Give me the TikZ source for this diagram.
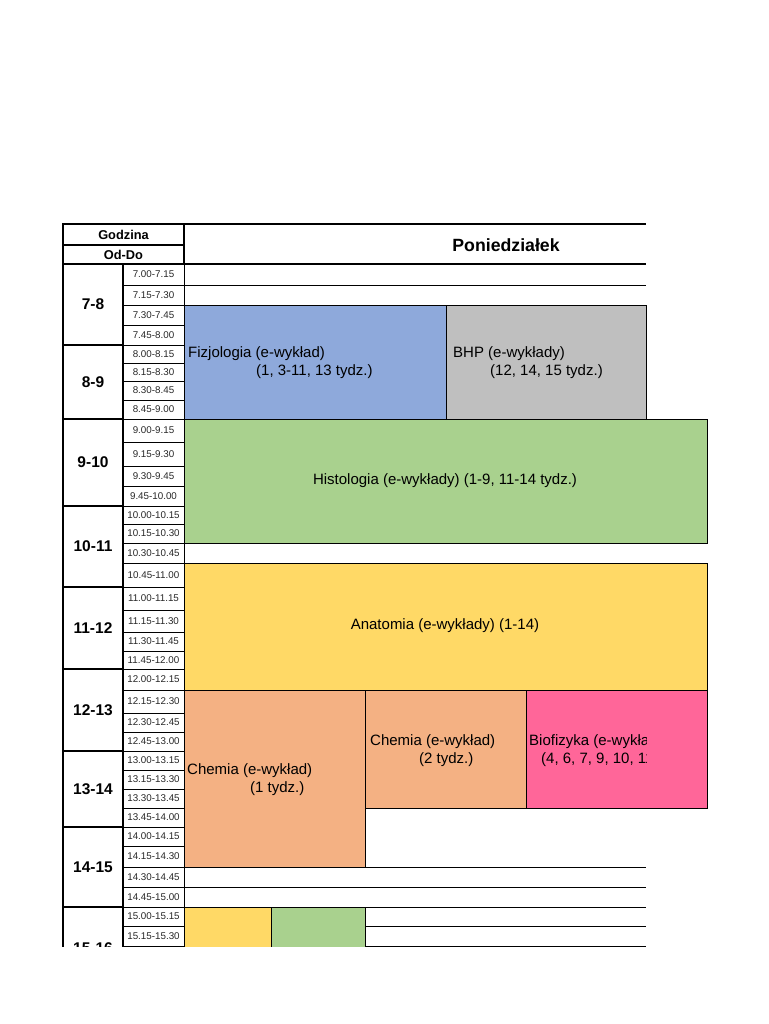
\documentclass[tikz,border=0pt]{standalone}
\usepackage{fontspec}
\setmainfont{Liberation Sans}
\definecolor{cblue}{HTML}{8EA9DB}
\definecolor{cgray}{HTML}{BFBFBF}
\definecolor{cgreen}{HTML}{A9D18E}
\definecolor{cyellow}{HTML}{FFD966}
\definecolor{corange}{HTML}{F4B183}
\definecolor{cpink}{HTML}{FF6699}
\tikzset{cell/.style={draw=black,line width=0.6pt},
 thick cell/.style={draw=black,line width=1.4pt},
 tl/.style={font=\fontsize{9.8}{11}\selectfont,text=black!85,inner sep=0pt},
 hl/.style={font=\bfseries\fontsize{15.5}{16}\selectfont},
 lab/.style={font=\fontsize{15}{18}\selectfont,align=left,anchor=west,inner sep=0pt},
 labc/.style={font=\fontsize{15}{17}\selectfont}}
\begin{document}
\begin{tikzpicture}[x=1pt,y=-1pt]
\useasboundingbox (0,0) rectangle (768,1024);
\begin{scope}
\clip (0,0) rectangle (768,946);
\foreach \a/\b/\t in {264/285/7.00-7.15,285/305/7.15-7.30,305/325/7.30-7.45,325/345/7.45-8.00,345/363/8.00-8.15,363/381/8.15-8.30,381/400/8.30-8.45,400/419/8.45-9.00,419/442/9.00-9.15,442/466/9.15-9.30,466/486/9.30-9.45,486/506/9.45-10.00,506/524/10.00-10.15,524/543/10.15-10.30,543/563/10.30-10.45,563/587/10.45-11.00,587/610/11.00-11.15,610/632/11.15-11.30,632/651/11.30-11.45,651/669/11.45-12.00,669/690/12.00-12.15,690/713/12.15-12.30,713/732/12.30-12.45,732/751/12.45-13.00,751/770/13.00-13.15,770/789/13.15-13.30,789/808/13.30-13.45,808/827/13.45-14.00,827/846/14.00-14.15,846/867/14.15-14.30,867/887/14.30-14.45,887/907/14.45-15.00,907/926/15.00-15.15,926/946/15.15-15.30,946/966/15.30-15.45}
 {\draw[cell] (123,\a) rectangle (184,\b);
  \node[tl] (t\a) at (153.5,{(\a+\b)/2}) {\t};}
\foreach \a/\b/\t in {264/345/7-8,345/419/8-9,419/506/9-10,506/587/10-11,587/669/11-12,669/751/12-13,751/827/13-14,827/907/14-15,907/990/15-16}
 {\draw[thick cell] (63,\a) rectangle (123,\b);
  \node[hl] (h\a) at (93,{(\a+\b)/2}) {\t};}
\draw[thick cell] (63,224) rectangle (184,245);
\draw[thick cell] (63,245) rectangle (184,264);
\node[font=\bfseries\fontsize{12.8}{13}\selectfont] (g) at (123.5,234.5) {Godzina};
\node[font=\bfseries\fontsize{12.8}{13}\selectfont] (od) at (123.5,254.5) {Od-Do};
\draw[thick cell] (184,264) -- (184,224) -- (646,224);
\draw[thick cell] (184,264) -- (646,264);
\node[font=\bfseries\fontsize{17.7}{19}\selectfont] (pon) at (506,245) {Poniedziałek};
\foreach \a/\b in {264/285,285/305,543/563,867/887,887/907}
 \draw[cell] (184,\a) -- (646,\a) (184,\b) -- (646,\b);
\draw[cell] (365,867) -- (646,867);
\draw[cell] (365,907) -- (646,907) (365,926) -- (646,926) (365,946) -- (646,946);
\draw[cell,fill=cblue] (184,305) rectangle (446,419);
\node[lab] (fiz) at (188,363) {Fizjologia (e-wykład)\\\hspace*{68pt}(1, 3-11, 13 tydz.)};
\draw[cell,fill=cgray] (446,305) rectangle (646,419);
\node[lab] (bhp) at (453,363) {BHP (e-wykłady)\\\hspace*{37pt}(12, 14, 15 tydz.)};
\draw[cell,fill=cgreen] (184,419) rectangle (707,543);
\node[labc] (his) at (445,481) {Histologia (e-wykłady) (1-9, 11-14 tydz.)};
\draw[cell,fill=cyellow] (184,563) rectangle (707,690);
\node[labc] (ana) at (445,626) {Anatomia (e-wykłady) (1-14)};
\draw[cell,fill=corange] (184,690) rectangle (365,867);
\node[lab] (ch1) at (187,780) {Chemia (e-wykład)\\\hspace*{63pt}(1 tydz.)};
\draw[cell,fill=corange] (365,690) rectangle (526,808);
\node[lab] (ch2) at (370,751) {Chemia (e-wykład)\\\hspace*{49pt}(2 tydz.)};
\draw[cell,fill=cpink] (526,690) rectangle (707,808);
\begin{scope}
\clip (526,690) rectangle (646,808);
\node[lab] (bio) at (529,751) {Biofizyka (e-wykład)\\\hspace*{12pt}(4, 6, 7, 9, 10, 11)};
\end{scope}
\draw[cell,fill=cyellow] (184,907) rectangle (271,960);
\draw[cell,fill=cgreen] (271,907) rectangle (365,960);
\end{scope}
\end{tikzpicture}
\end{document}
